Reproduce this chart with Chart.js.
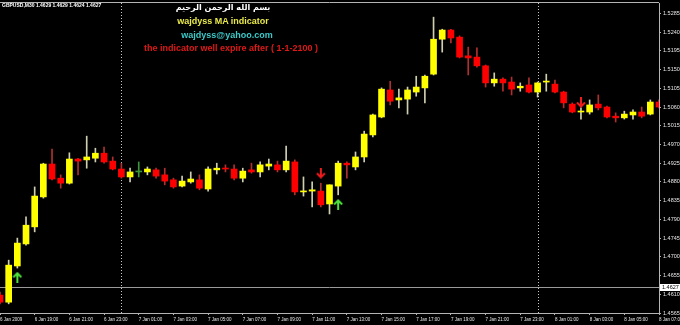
<!DOCTYPE html>
<html>
<head>
<meta charset="utf-8">
<script src="https://cdn.jsdelivr.net/npm/chart.js@4.4.1/dist/chart.umd.min.js"></script>
<style>
  html, body { margin: 0; padding: 0; background: #000; }
  #wrap { position: relative; width: 680px; height: 325px; overflow: hidden; }
  canvas { display: block; }
  .txt { position: absolute; font-family: "Liberation Sans", Arial, sans-serif; font-weight: bold;
         white-space: nowrap; line-height: 1; transform: translate(-50%, -50%); font-size: 9px; }
  #sym { position: absolute; left: 2px; top: 2px; font: bold 5px "Liberation Sans", Arial, sans-serif; color: #fff; white-space: nowrap; }
</style>
</head>
<body>
<div id="wrap">
  <canvas id="chart" width="680" height="325"></canvas>
  <div id="sym">GBPUSD,M30  1.4629 1.4629 1.4624 1.4627</div>
  <div class="txt" style="left:223px;top:8px;color:#fff;font-family:'DejaVu Sans',sans-serif;font-size:8px;">بسم الله الرحمن الرحيم</div>
  <div class="txt" style="left:223px;top:21px;color:#e8e84a;">wajdyss MA indicator</div>
  <div class="txt" style="left:227px;top:35px;color:#3cc8c8;">wajdyss@yahoo.com</div>
  <div class="txt" style="left:231px;top:48px;color:#e01818;">the indicator well expire after ( 1-1-2100 )</div>
</div>

<script>
// ── GBPUSD M30 candles, 6 Jan 17:00 → 8 Jan 07:00 ──
const OPEN = [
  1.4608, 1.4591, 1.4678, 1.4731, 1.4772, 1.4844, 1.4923, 1.4889, 1.4877, 1.4935,
  1.4933, 1.4937, 1.4949, 1.4930, 1.4911, 1.4892, 1.4904, 1.4904, 1.4909, 1.4897,
  1.4885, 1.4870, 1.4880, 1.4885, 1.4863, 1.4909, 1.4913, 1.4911, 1.4889, 1.4909,
  1.4904, 1.4918, 1.4921, 1.4909, 1.4928, 1.4856, 1.4858, 1.4858, 1.4827, 1.4870,
  1.4925, 1.4916, 1.4940, 1.4993, 1.5036, 1.5101, 1.5077, 1.5079, 1.5096, 1.5106,
  1.5139, 1.5223, 1.5245, 1.5228, 1.5183, 1.5180, 1.5159, 1.5118, 1.5127, 1.5120,
  1.5106, 1.5113, 1.5096, 1.5120, 1.5115, 1.5096, 1.5067, 1.5048, 1.5048, 1.5067,
  1.5060, 1.5038, 1.5034, 1.5041, 1.5048, 1.5043, 1.5072
];
const HIGH = [
  1.4615, 1.4692, 1.4745, 1.4796, 1.4868, 1.4925, 1.4959, 1.4897, 1.4950, 1.4937,
  1.4990, 1.4961, 1.4964, 1.4940, 1.4925, 1.4913, 1.4928, 1.4916, 1.4913, 1.4913,
  1.4889, 1.4894, 1.4904, 1.4897, 1.4916, 1.4925, 1.4921, 1.4921, 1.4913, 1.4925,
  1.4928, 1.4935, 1.4930, 1.4966, 1.4933, 1.4892, 1.4880, 1.4877, 1.4873, 1.4930,
  1.4928, 1.4952, 1.5002, 1.5043, 1.5106, 1.5122, 1.5103, 1.5108, 1.5134, 1.5137,
  1.5276, 1.5247, 1.5247, 1.5231, 1.5204, 1.5202, 1.5161, 1.5142, 1.5130, 1.5132,
  1.5118, 1.5130, 1.5120, 1.5139, 1.5125, 1.5098, 1.5070, 1.5058, 1.5077, 1.5089,
  1.5062, 1.5046, 1.5050, 1.5053, 1.5060, 1.5077, 1.5077
];
const LOW = [
  1.4587, 1.4587, 1.4673, 1.4728, 1.4760, 1.4841, 1.4885, 1.4865, 1.4875, 1.4897,
  1.4913, 1.4928, 1.4925, 1.4909, 1.4889, 1.4880, 1.4892, 1.4897, 1.4889, 1.4873,
  1.4865, 1.4868, 1.4877, 1.4861, 1.4858, 1.4899, 1.4904, 1.4885, 1.4880, 1.4901,
  1.4892, 1.4909, 1.4904, 1.4904, 1.4849, 1.4846, 1.4820, 1.4820, 1.4803, 1.4849,
  1.4889, 1.4909, 1.4928, 1.4988, 1.5034, 1.5065, 1.5058, 1.5043, 1.5086, 1.5070,
  1.5137, 1.5192, 1.5214, 1.5178, 1.5137, 1.5156, 1.5108, 1.5110, 1.5098, 1.5089,
  1.5098, 1.5094, 1.5084, 1.5098, 1.5094, 1.5058, 1.5046, 1.5031, 1.5043, 1.5053,
  1.5034, 1.5024, 1.5031, 1.5031, 1.5034, 1.5041, 1.5058
];
const CLOSE = [
  1.4591, 1.4680, 1.4733, 1.4776, 1.4846, 1.4923, 1.4887, 1.4877, 1.4935, 1.4930,
  1.4940, 1.4949, 1.4928, 1.4911, 1.4892, 1.4904, 1.4904, 1.4911, 1.4894, 1.4882,
  1.4868, 1.4882, 1.4887, 1.4865, 1.4911, 1.4913, 1.4911, 1.4889, 1.4906, 1.4904,
  1.4921, 1.4923, 1.4909, 1.4930, 1.4856, 1.4858, 1.4861, 1.4825, 1.4873, 1.4925,
  1.4921, 1.4940, 1.4995, 1.5041, 1.5103, 1.5074, 1.5082, 1.5101, 1.5108, 1.5134,
  1.5223, 1.5245, 1.5226, 1.5180, 1.5178, 1.5159, 1.5118, 1.5127, 1.5118, 1.5103,
  1.5110, 1.5096, 1.5118, 1.5122, 1.5096, 1.5070, 1.5048, 1.5050, 1.5065, 1.5058,
  1.5036, 1.5034, 1.5043, 1.5048, 1.5038, 1.5072, 1.5060
];

// time labels, one every 4 bars (2 hours)
const TIME_LABELS = [
  '6 Jan 2009', '6 Jan 19:00', '6 Jan 21:00', '6 Jan 23:00', '7 Jan 01:00',
  '7 Jan 03:00', '7 Jan 05:00', '7 Jan 07:00', '7 Jan 09:00', '7 Jan 11:00',
  '7 Jan 13:00', '7 Jan 15:00', '7 Jan 17:00', '7 Jan 19:00', '7 Jan 21:00',
  '7 Jan 23:00', '8 Jan 01:00', '8 Jan 03:00', '8 Jan 05:00', '8 Jan 07:00'
];
const PRICE_TICKS = [
  1.4565, 1.4610, 1.4655, 1.4700, 1.4745, 1.4790, 1.4835, 1.4880, 1.4925,
  1.4970, 1.5015, 1.5060, 1.5105, 1.5150, 1.5195, 1.5240, 1.5285
];
const CURRENT_PRICE = 1.4627;
const DAY_BREAKS = [14, 62];

// indicator signals
const BUY_IDX = [2, 39];
const BUY_PRICE = [1.4651, 1.4826];
const SELL_IDX = [37, 67];
const SELL_PRICE = [1.4901, 1.5071];

const BAR_LABELS = OPEN.map((_, i) => String(i));

const UP = '#ffff00', DOWN = '#ff0000', FLAT = '#3c963c';
const bodyColor = OPEN.map((o, i) => CLOSE[i] > o ? UP : CLOSE[i] < o ? DOWN : FLAT);
const wickColor = OPEN.map((o, i) => CLOSE[i] > o ? '#cfcfb0' : CLOSE[i] < o ? '#b03030' : FLAT);

function makeArrow(color, up) {
  const c = document.createElement('canvas');
  c.width = 10; c.height = 11;
  const g = c.getContext('2d');
  g.strokeStyle = color; g.lineWidth = 2;
  g.beginPath();
  if (up) {
    g.moveTo(5, 11); g.lineTo(5, 1.5);
    g.moveTo(1, 5.5); g.lineTo(5, 1.5); g.lineTo(9, 5.5);
  } else {
    g.moveTo(5, 0); g.lineTo(5, 9.5);
    g.moveTo(1, 5.5); g.lineTo(5, 9.5); g.lineTo(9, 5.5);
  }
  g.stroke();
  return c;
}

// ── separators, current price line and frame ──
const mtOverlay = {
  id: 'mtOverlay',
  beforeDatasetsDraw(chart) {
    const { ctx, chartArea: a, scales: { x, y } } = chart;
    ctx.save();
    ctx.strokeStyle = '#c8c8c8';
    ctx.lineWidth = 1;
    ctx.setLineDash([1, 2]);
    DAY_BREAKS.forEach(i => {
      const px = Math.round(x.getPixelForValue(i)) + 0.5;
      ctx.beginPath(); ctx.moveTo(px, a.top); ctx.lineTo(px, a.bottom); ctx.stroke();
    });
    ctx.setLineDash([]);
    const py = Math.round(y.getPixelForValue(CURRENT_PRICE)) + 0.5;
    ctx.strokeStyle = '#9a9a9a';
    ctx.beginPath(); ctx.moveTo(a.left, py); ctx.lineTo(a.right, py); ctx.stroke();
    ctx.strokeStyle = '#b4b4b4';
    ctx.beginPath(); ctx.moveTo(a.left, a.top - 0.5); ctx.lineTo(a.right, a.top - 0.5); ctx.stroke();
    ctx.restore();
  },
  afterDraw(chart) {
    const { ctx, chartArea: a, scales: { y } } = chart;
    const py = Math.round(y.getPixelForValue(CURRENT_PRICE));
    ctx.save();
    ctx.fillStyle = '#ffffff';
    ctx.fillRect(a.right + 1, py - 3, 20, 7);
    ctx.fillStyle = '#000';
    ctx.font = '5.5px "Liberation Sans", Arial, sans-serif';
    ctx.textBaseline = 'middle';
    ctx.fillText(CURRENT_PRICE.toFixed(4), a.right + 3, py + 0.5);
    ctx.restore();
  }
};

new Chart(document.getElementById('chart'), {
  type: 'bar',
  data: {
    labels: BAR_LABELS,
    datasets: [
      {
        label: 'wick',
        data: LOW.map((l, i) => [l, HIGH[i]]),
        backgroundColor: wickColor,
        barThickness: 1,
        grouped: false,
        order: 3
      },
      {
        label: 'body',
        data: OPEN.map((o, i) => [o, CLOSE[i]]),
        backgroundColor: bodyColor,
        barThickness: 6,
        minBarLength: 1,
        grouped: false,
        order: 2
      },
      {
        type: 'line',
        label: 'buy',
        data: BUY_IDX.map((i, k) => ({ x: BAR_LABELS[i], y: BUY_PRICE[k] })),
        showLine: false,
        pointStyle: makeArrow('#4ee03c', true),
        order: 1
      },
      {
        type: 'line',
        label: 'sell',
        data: SELL_IDX.map((i, k) => ({ x: BAR_LABELS[i], y: SELL_PRICE[k] })),
        showLine: false,
        pointStyle: makeArrow('#ee1c1c', false),
        order: 1
      }
    ]
  },
  options: {
    responsive: false,
    animation: false,
    devicePixelRatio: 1,
    layout: { autoPadding: false, padding: { top: 3, left: 0, right: 0, bottom: 0 } },
    plugins: { legend: { display: false }, tooltip: { enabled: false } },
    scales: {
      x: {
        offset: false,
        grid: {
          offset: false,
          drawOnChartArea: false,
          tickLength: 2,
          tickColor: c => (c.index % 4 === 0 ? '#b4b4b4' : 'rgba(0,0,0,0)')
        },
        border: { color: '#b4b4b4' },
        ticks: {
          autoSkip: false,
          maxRotation: 0,
          minRotation: 0,
          align: 'start',
          padding: 2,
          color: '#e6e6e6',
          font: { family: '"Liberation Sans", Arial, sans-serif', size: 4.5 },
          callback: (v, i) => (i % 4 === 0 ? TIME_LABELS[i / 4] : '')
        },
        // keep the plot flush to the left edge and the price scale
        afterFit: s => { s.height = 12; s.paddingLeft = 0; s.paddingRight = 0; }
      },
      y: {
        position: 'right',
        min: 1.4565,
        max: 1.5310,
        grid: { drawOnChartArea: false, tickLength: 2, tickColor: '#b4b4b4' },
        border: { color: '#b4b4b4' },
        afterBuildTicks: s => { s.ticks = PRICE_TICKS.map(v => ({ value: v })); },
        ticks: {
          padding: 2,
          color: '#e6e6e6',
          font: { family: '"Liberation Sans", Arial, sans-serif', size: 5.5 },
          callback: v => v.toFixed(4)
        },
        afterFit: s => { s.width = 21; s.paddingTop = 0; s.paddingBottom = 0; }
      }
    }
  },
  plugins: [mtOverlay]
});
</script>
</body>
</html>
